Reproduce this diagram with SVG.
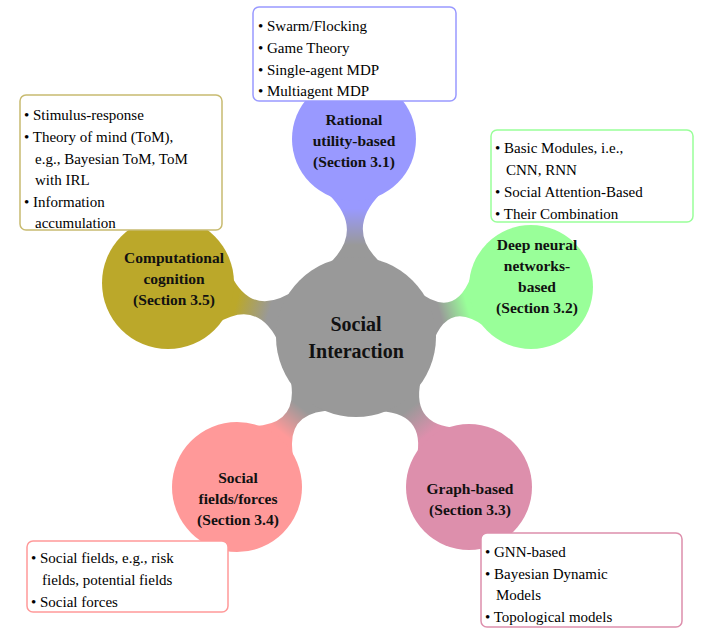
<svg xmlns="http://www.w3.org/2000/svg" width="720" height="642" viewBox="0 0 720 642">
<style>
.t{font-family:"Liberation Serif","DejaVu Serif",serif;font-size:15px;fill:#000}
.b{font-family:"Liberation Serif","DejaVu Serif",serif;font-size:15.5px;font-weight:bold;fill:#111;text-anchor:middle}
.box{fill:#fff;stroke-width:1.5}
</style>
<defs>
<linearGradient id="gB"><stop offset="0.3" stop-color="#999"/><stop offset="0.8" stop-color="#9999ff"/></linearGradient>
<linearGradient id="gG"><stop offset="0.3" stop-color="#999"/><stop offset="0.8" stop-color="#99ff99"/></linearGradient>
<linearGradient id="gP"><stop offset="0.3" stop-color="#999"/><stop offset="0.8" stop-color="#dd8fac"/></linearGradient>
<linearGradient id="gR"><stop offset="0.3" stop-color="#999"/><stop offset="0.8" stop-color="#ff9999"/></linearGradient>
<linearGradient id="gO"><stop offset="0.3" stop-color="#999"/><stop offset="0.8" stop-color="#bba82a"/></linearGradient>
</defs>
<g id="connectors">
<path transform="translate(356,337) rotate(-90.6)" fill="url(#gB)" d="M70,-30 Q105,12 143,-26 L143,26 Q105,-12 70,30 Z"/>
<path transform="translate(356,337) rotate(-16)" fill="url(#gG)" d="M70,-30 Q98,12 127,-26 L127,26 Q98,-12 70,30 Z"/>
<path transform="translate(356,337) rotate(52.8)" fill="url(#gP)" d="M70,-30 Q102,12 134,-26 L134,26 Q102,-12 70,30 Z"/>
<path transform="translate(356,337) rotate(128.2)" fill="url(#gR)" d="M70,-30 Q102,12 134,-26 L134,26 Q102,-12 70,30 Z"/>
<path transform="translate(356,337) rotate(196)" fill="url(#gO)" d="M70,-30 Q104,12 138,-26 L138,26 Q104,-12 70,30 Z"/>
</g>
<g id="center"><circle cx="356" cy="337" r="80" fill="#999"/>
<text class="b" style="font-size:20px" x="356" y="331">Social</text><text class="b" style="font-size:20px" x="356" y="358">Interaction</text></g>
<g id="rational"><circle cx="354" cy="139" r="62" fill="#9999ff"/>
<text class="b" x="354" y="125">Rational</text><text class="b" x="354" y="146">utility-based</text><text class="b" x="354" y="167">(Section 3.1)</text></g>
<g id="dnn"><circle cx="531" cy="287" r="62" fill="#99ff99"/>
<text class="b" x="537" y="250">Deep neural</text><text class="b" x="537" y="271">networks-</text><text class="b" x="537" y="292">based</text><text class="b" x="537" y="313">(Section 3.2)</text></g>
<g id="graph"><circle cx="469" cy="487" r="63" fill="#dd8fac"/>
<text class="b" x="470" y="494">Graph-based</text><text class="b" x="470" y="515">(Section 3.3)</text></g>
<g id="fields"><circle cx="237" cy="487" r="65" fill="#ff9999"/>
<text class="b" x="238" y="483">Social</text><text class="b" x="238" y="504">fields/forces</text><text class="b" x="238" y="525">(Section 3.4)</text></g>
<g id="cognition"><circle cx="168" cy="283" r="66" fill="#bba82a"/>
<text class="b" x="174" y="263">Computational</text><text class="b" x="174" y="284">cognition</text><text class="b" x="174" y="305">(Section 3.5)</text></g>
<g id="box-rational"><rect class="box" x="253" y="7" width="203" height="94" rx="6" stroke="#9999ff"/>
<text class="t" x="258" y="31">• Swarm/Flocking</text><text class="t" x="258" y="53">• Game Theory</text><text class="t" x="258" y="75">• Single-agent MDP</text><text class="t" x="258" y="96">• Multiagent MDP</text></g>
<g id="box-cognition"><rect class="box" x="20" y="95" width="202" height="135" rx="6" stroke="#c8bb70"/>
<text class="t" x="24" y="120">• Stimulus-response</text><text class="t" x="24" y="142">• Theory of mind (ToM),</text><text class="t" x="35" y="164">e.g., Bayesian ToM, ToM</text><text class="t" x="35" y="185">with IRL</text><text class="t" x="24" y="207">• Information</text><text class="t" x="35" y="228">accumulation</text></g>
<g id="box-dnn"><rect class="box" x="491" y="130" width="202" height="92" rx="6" stroke="#99ff99"/>
<text class="t" x="495" y="153">• Basic Modules, i.e.,</text><text class="t" x="506" y="175">CNN, RNN</text><text class="t" x="495" y="197">• Social Attention-Based</text><text class="t" x="495" y="219">• Their Combination</text></g>
<g id="box-fields"><rect class="box" x="27" y="541" width="201" height="71" rx="6" stroke="#ff9999"/>
<text class="t" x="31" y="563">• Social fields, e.g., risk</text><text class="t" x="42" y="585">fields, potential fields</text><text class="t" x="31" y="607">• Social forces</text></g>
<g id="box-graph"><rect class="box" x="481" y="533" width="201" height="94" rx="6" stroke="#dd8fac"/>
<text class="t" x="485" y="557">• GNN-based</text><text class="t" x="485" y="579">• Bayesian Dynamic</text><text class="t" x="496" y="600">Models</text><text class="t" x="485" y="622">• Topological models</text></g>
</svg>
